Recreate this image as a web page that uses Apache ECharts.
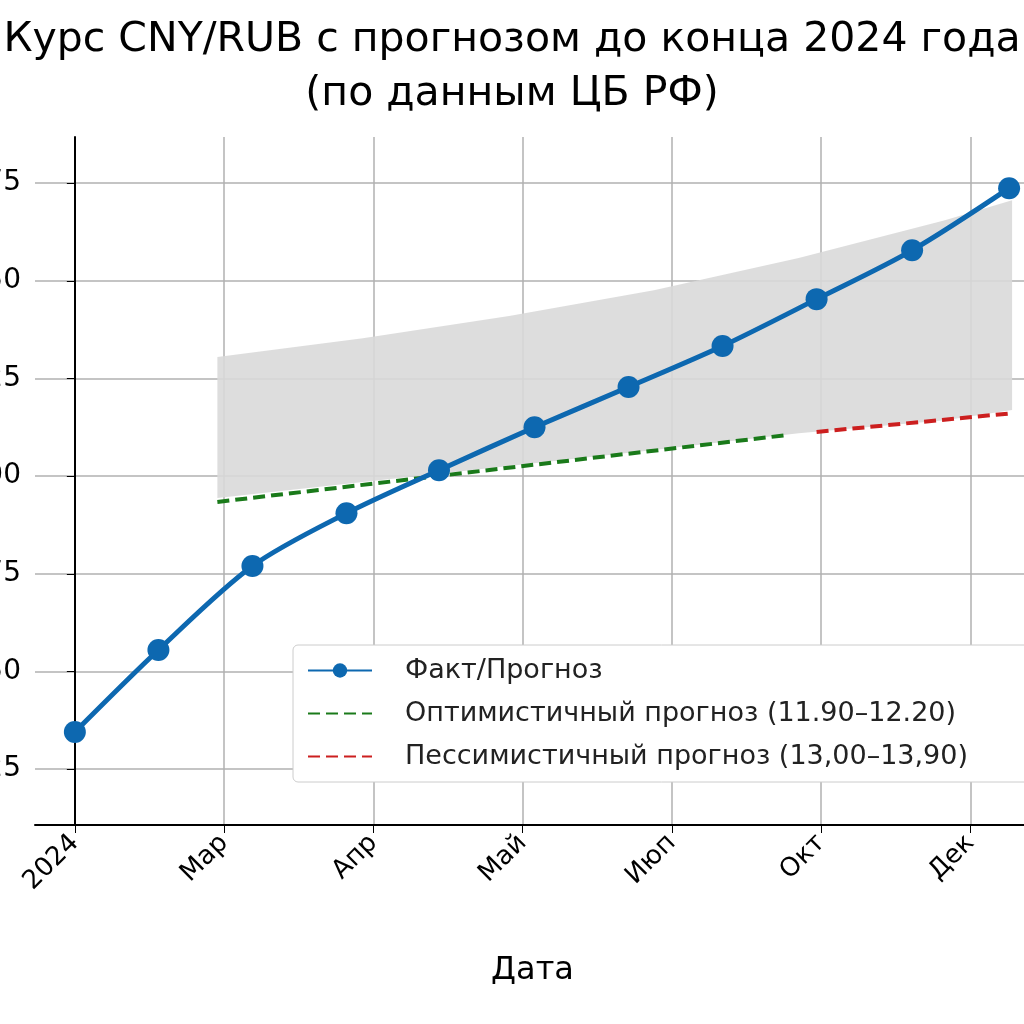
<!DOCTYPE html>
<html>
<head>
<meta charset="utf-8">
<script src="https://cdn.jsdelivr.net/npm/echarts@6/dist/echarts.min.js"></script>
<style>html,body{margin:0;padding:0;background:#fff;overflow:hidden}#c{width:1024px;height:1024px}</style>
</head>
<body>
<div id="c"></div>
<script>
"use strict";

// x positions are in "tick units" (0 = 2024, 1 = Мар, ...)
var tickLabels = ['2024', 'Мар', 'Апр', 'Май', 'Июп', 'Окт', 'Дек'];
var yTicks = [11.25, 11.5, 11.75, 12.0, 12.25, 12.5, 12.75];

var factX = [0, 0.56, 1.19, 1.82, 2.44, 3.08, 3.71, 4.34, 4.97, 5.61, 6.26];
var factY = [11.345, 11.555, 11.77, 11.905, 12.015, 12.125, 12.228, 12.333, 12.453, 12.578, 12.737];

var bandX = [0.955, 1.93, 2.91, 3.88, 4.85, 5.83, 6.28];
var bandLow = [11.944, 11.985, 12.026, 12.067, 12.11, 12.143, 12.169];
var bandHigh = [12.305, 12.353, 12.41, 12.476, 12.558, 12.655, 12.706];

var optX = [0.955, 4.77];
var optY = [11.934, 12.105];
var pesX = [4.97, 6.28];
var pesY = [12.113, 12.161];

function pairs(xs, ys) {
    return xs.map(function (x, i) { return [x, ys[i]]; });
}

var myChart = echarts.init(document.getElementById('c'));

var option = {
    animation: false,
    title: {
        text: 'Курс CNY/RUB с прогнозом до конца 2024 года\n(по данным ЦБ РФ)',
        left: 'center',
        top: 8,
        textStyle: { fontFamily: 'DejaVu Sans', fontWeight: 'normal', fontSize: 41, lineHeight: 54, color: '#000' }
    },
    grid: { left: 35, right: -6, top: 137, bottom: 199, outerBoundsMode: 'none', containLabel: false },
    legend: {
        orient: 'vertical',
        left: 293,
        top: 645,
        padding: [12, 400, 12, 14],
        itemGap: 16,
        itemWidth: 64,
        itemHeight: 18,
        backgroundColor: '#fff',
        borderColor: '#ccc',
        borderWidth: 1,
        borderRadius: 5,
        textStyle: { fontFamily: 'DejaVu Sans', fontSize: 27, color: '#222', padding: [0, 0, 0, 28] },
        data: ['Факт/Прогноз', 'Оптимистичный прогноз (11.90–12.20)', 'Пессимистичный прогноз (13,00–13,90)']
    },
    xAxis: {
        type: 'value',
        min: -0.267,
        max: 6.4,
        name: 'Дата',
        nameLocation: 'middle',
        nameGap: 130,
        nameTextStyle: { fontFamily: 'DejaVu Sans', fontSize: 32, color: '#000' },
        axisLine: { lineStyle: { color: '#000', width: 2 } },
        axisTick: { show: true, length: 8, customValues: [0, 1, 2, 3, 4, 5, 6], lineStyle: { color: '#000' } },
        axisLabel: {
            customValues: [0, 1, 2, 3, 4, 5, 6],
            rotate: 45, margin: 14,
            fontFamily: 'DejaVu Sans', fontSize: 26, color: '#000',
            formatter: function (v) { return tickLabels[Math.round(v)]; }
        },
        splitLine: { show: true, lineStyle: { color: '#b0b0b0', width: 1.5 } }
    },
    yAxis: {
        type: 'value',
        min: 11.107,
        max: 12.868,
        axisLine: { show: true, lineStyle: { color: '#000', width: 2 } },
        axisTick: { show: true, length: 8, customValues: yTicks, lineStyle: { color: '#000' } },
        axisLabel: {
            customValues: yTicks, margin: 14,
            fontFamily: 'DejaVu Sans', fontSize: 28, color: '#000',
            formatter: function (v) { return v.toFixed(2); }
        },
        splitLine: { show: true, lineStyle: { color: '#b0b0b0', width: 1.5 } }
    },
    series: [
        {
            name: 'band', type: 'custom', silent: true, z: 1,
            data: [0],
            renderItem: function (params, api) {
                var pts = [];
                bandX.forEach(function (x, i) { pts.push(api.coord([x, bandHigh[i]])); });
                for (var i = bandX.length - 1; i >= 0; i--) pts.push(api.coord([bandX[i], bandLow[i]]));
                return { type: 'polygon', shape: { points: pts }, style: { fill: '#d9d9d9', opacity: 0.9 } };
            }
        },
        {
            name: 'Оптимистичный прогноз (11.90–12.20)', type: 'line', symbol: 'none', z: 3,
            itemStyle: { color: '#1a7a1a', opacity: 0 },
            lineStyle: { color: '#1a7a1a', width: 4, type: [12, 6] },
            data: pairs(optX, optY)
        },
        {
            name: 'Пессимистичный прогноз (13,00–13,90)', type: 'line', symbol: 'none', z: 3,
            itemStyle: { color: '#cc1f1f', opacity: 0 },
            lineStyle: { color: '#cc1f1f', width: 4, type: [12, 6] },
            data: pairs(pesX, pesY)
        },
        {
            name: 'Факт/Прогноз', type: 'line', smooth: 0.3, z: 4,
            symbol: 'circle', symbolSize: 22,
            itemStyle: { color: '#0d68b0' },
            lineStyle: { color: '#0d68b0', width: 5 },
            data: pairs(factX, factY)
        }
    ]
};

myChart.setOption(option);
</script>
</body>
</html>
